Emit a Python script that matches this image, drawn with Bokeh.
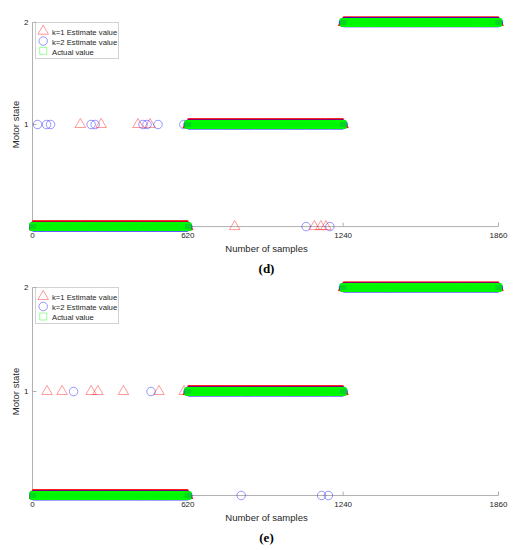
import numpy as np
from bokeh.plotting import figure
from bokeh.layouts import column
from bokeh.models import Range1d, FixedTicker, Legend, LegendItem, Title
from bokeh.embed import file_html
from bokeh.resources import INLINE

# ---------------- data ----------------
state_levels = [0, 1, 2]          # actual motor state of each block of samples
samples_per_state = 620
x_ticks = [0, 620, 1240, 1860]
y_ticks = [1, 2]

# panel (d): samples where the estimates differ from the actual state
d_k1_err_samples = [191, 274, 421, 469, 807, 1125, 1151, 1171]
d_k1_err_values = [1, 1, 1, 1, 0, 0, 0, 0]
d_k2_err_samples = [20, 56, 72, 234, 250, 441, 457, 501, 604, 1092, 1187]
d_k2_err_values = [1, 1, 1, 1, 1, 1, 1, 1, 1, 0, 0]

# panel (e)
e_k1_err_samples = [58, 118, 234, 261, 363, 505, 605]
e_k1_err_values = [1, 1, 1, 1, 1, 1, 1]
e_k2_err_samples = [164, 473, 833, 1154, 1181]
e_k2_err_values = [1, 1, 0, 0, 0]

labels = ["k=1 Estimate value", "k=2 Estimate value", "Actual value"]

samples = np.arange(1, samples_per_state * len(state_levels) + 1)
actual = np.repeat(state_levels, samples_per_state).astype(float)


def estimate(err_samples, err_values):
    est = actual.copy()
    est[np.array(err_samples) - 1] = err_values
    return est


FONT = "Liberation Sans"
AX = "#b0b0b0"
TXT = "#262626"

X0, X1 = -12, 1880
Y0, Y1 = -0.058, 2.058
WIDTH = 515
BL, BR = 29, 12
FRAME_H = 220
PX_X = (WIDTH - BL - BR) / (X1 - X0)     # pixels per sample
PX_Y = FRAME_H / (Y1 - Y0)               # pixels per state unit

STYLES = [dict(marker="triangle", size=10.5, line_color="#ff0000"),
          dict(marker="circle", size=8.5, line_color="#0000ff"),
          dict(marker="square", size=7, line_color="#00ff00")]
ALPHA = 0.5

LEG_MARGIN = 6
LEG_PAD_TOP = 4
ROW_H = 10


def make_panel(k1, k2, tag, height, top):
    bottom = height - top - FRAME_H
    p = figure(width=WIDTH, height=height, output_backend="svg", toolbar_location=None,
               x_range=Range1d(X0, X1), y_range=Range1d(Y0, Y1),
               min_border_left=BL, min_border_right=BR,
               min_border_top=top, min_border_bottom=bottom)
    p.grid.visible = False
    p.outline_line_color = None

    # axis lines and inward ticks at the data origin
    xmax = x_ticks[-1]
    ymax = y_ticks[-1]
    p.segment(x0=[0, 0], y0=[0, 0], x1=[xmax, 0], y1=[0, ymax], line_color=AX, line_width=1)
    p.segment(x0=x_ticks, y0=[0] * len(x_ticks), x1=x_ticks, y1=[4 / PX_Y] * len(x_ticks),
              line_color=AX, line_width=1)
    p.segment(x0=[0] * len(y_ticks), y0=y_ticks, x1=[4 / PX_X] * len(y_ticks), y1=y_ticks,
              line_color=AX, line_width=1)

    rs = []
    for ys, st in zip([k1, k2, actual], STYLES):
        rs.append(p.scatter(samples, ys, fill_color=None, line_width=0.8,
                            line_alpha=ALPHA, **st))

    for ax in (p.xaxis[0], p.yaxis[0]):
        ax.axis_line_color = None
        ax.major_tick_line_color = None
        ax.minor_tick_line_color = None
        ax.major_tick_in = 0
        ax.major_tick_out = 0
        ax.major_label_text_font = FONT
        ax.major_label_text_font_size = "8px"
        ax.major_label_text_color = TXT
        ax.axis_label_text_font = FONT
        ax.axis_label_text_font_size = "9.5px"
        ax.axis_label_text_font_style = "normal"
        ax.axis_label_text_color = TXT

    p.xaxis.bounds = (0, xmax)
    p.xaxis.ticker = FixedTicker(ticks=x_ticks)
    p.xaxis.axis_label = "Number of samples"
    p.xaxis.major_label_standoff = 0
    p.xaxis.axis_label_standoff = 2
    p.yaxis.bounds = (0, ymax)
    p.yaxis.ticker = FixedTicker(ticks=y_ticks)
    p.yaxis.axis_label = "Motor state"
    p.yaxis.major_label_standoff = 1
    p.yaxis.axis_label_standoff = 0

    legend = Legend(items=[LegendItem(label=l, renderers=[r]) for l, r in zip(labels, rs)],
                    location="top_left", margin=LEG_MARGIN,
                    padding=dict(left=1, right=1, top=LEG_PAD_TOP, bottom=1), spacing=0,
                    glyph_width=0, glyph_height=ROW_H, label_height=ROW_H,
                    label_standoff=15,
                    label_text_font=FONT, label_text_font_size="7.7px",
                    label_text_color=TXT,
                    border_line_color="#a6a6a6", border_line_width=1,
                    background_fill_alpha=0)
    p.add_layout(legend)

    # legend symbols drawn at full marker size inside the legend box
    sym_x = X0 + (LEG_MARGIN + 7.7) / PX_X
    for i, st in enumerate(STYLES):
        sym_y = Y1 - (LEG_MARGIN + LEG_PAD_TOP + ROW_H / 2 + ROW_H * i) / PX_Y
        p.scatter([sym_x], [sym_y], fill_color=None, line_width=0.8,
                  line_alpha=ALPHA, **st)

    p.add_layout(Title(text=tag, align="center", text_font="Liberation Serif",
                       text_font_size="13px", text_font_style="bold",
                       text_color="#000000", standoff=5), "below")
    return p


pd_ = make_panel(estimate(d_k1_err_samples, d_k1_err_values),
                 estimate(d_k2_err_samples, d_k2_err_values), "(d)", 278, 16)
pe_ = make_panel(estimate(e_k1_err_samples, e_k1_err_values),
                 estimate(e_k2_err_samples, e_k2_err_values), "(e)", 272, 3)

layout = column(pd_, pe_, spacing=0)
open("out.html", "w").write(file_html(layout, INLINE))
